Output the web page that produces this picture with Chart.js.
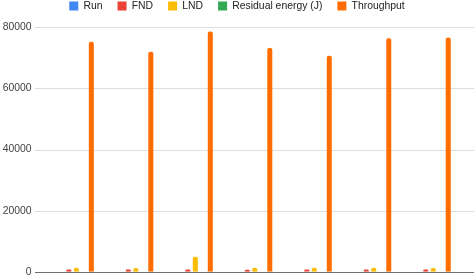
<!DOCTYPE html>
<html lang="en">
<head>
    <meta charset="UTF-8">
    <title>Run results</title>
    <script src="https://cdn.jsdelivr.net/npm/chart.js"></script>
    <style>
        body {
            margin: 0;
            background-color: #ffffff;
        }

        .chart-container {
            width: 474px;
            height: 278px;
            position: relative;
        }
    </style>
</head>
<body>

    <div class="chart-container">
        <canvas id="runChart"></canvas>
    </div>

    <script>
        // Data
        const runs = ['1', '2', '3', '4', '5', '6', '7'];
        const runValues = [1, 2, 3, 4, 5, 6, 7];
        const fndValues = [750, 700, 700, 650, 700, 700, 700];
        const lndValues = [1300, 1250, 4900, 1300, 1300, 1300, 1250];
        const residualValues = [0.47, 0.45, 0.5, 0.46, 0.44, 0.48, 0.47];
        const throughputValues = [75300, 72000, 78600, 73200, 70700, 76400, 76700];
        const yTicks = [0, 20000, 40000, 60000, 80000];

        const barStyle = {
            borderRadius: { topLeft: 2, topRight: 2 },
            borderSkipped: 'start',
            categoryPercentage: 0.63,
            barPercentage: 0.67
        };

        // Gridlines run wider than the bar area, so draw them from the y scale
        const gridPlugin = {
            id: 'wideGrid',
            beforeInit(chart) {
                const legend = chart.legend;
                const origFit = legend.fit;
                legend.fit = function () {
                    origFit.call(this);
                    this.height = 27.3;
                };
            },
            afterLayout(chart) {
                // pull legend row up to the top edge and center it on the whole canvas
                chart.legend.top = -14.25;
                chart.legend.left = 0;
                chart.legend.right = chart.width;
                chart.legend.width = chart.width;
            },
            beforeDatasetsDraw(chart) {
                const ctx = chart.ctx;
                const y = chart.scales.y;
                ctx.save();
                yTicks.forEach(v => {
                    const py = Math.round(y.getPixelForValue(v)) + 0.5;
                    ctx.strokeStyle = v === 0 ? '#6e6e6e' : '#dddddd';
                    ctx.lineWidth = 1;
                    ctx.beginPath();
                    ctx.moveTo(35, py);
                    ctx.lineTo(474, py);
                    ctx.stroke();
                });
                ctx.restore();
            }
        };

        const ctx = document.getElementById('runChart').getContext('2d');
        const runChart = new Chart(ctx, {
            type: 'bar',
            data: {
                labels: runs,
                datasets: [
                    {label: 'Run', data: runValues, backgroundColor: '#4285f4', ...barStyle},
                    {label: 'FND', data: fndValues, backgroundColor: '#ea4335', ...barStyle},
                    {label: 'LND', data: lndValues, backgroundColor: '#fbbc04', ...barStyle},
                    {label: 'Residual energy (J)', data: residualValues, backgroundColor: '#34a853', ...barStyle},
                    {label: 'Throughput', data: throughputValues, backgroundColor: '#ff6d01', ...barStyle}
                ]
            },
            options: {
                responsive: true,
                maintainAspectRatio: false,
                animation: false,
                devicePixelRatio: 1,
                layout: {
                    padding: { left: 0, right: 11, top: 0, bottom: 5.3 }
                },
                scales: {
                    x: {
                        display: false
                    },
                    y: {
                        min: 0,
                        max: 80000,
                        afterFit(scale) { scale.width = 46.6; },
                        afterBuildTicks(scale) { scale.ticks = yTicks.map(v => ({ value: v })); },
                        // tick marks stay hidden; their length only pushes labels left
                        grid: { display: false, drawTicks: true, tickLength: 15 },
                        border: { display: false },
                        ticks: {
                            padding: 0,
                            color: '#444444',
                            font: { family: 'Arial, "Liberation Sans", sans-serif', size: 10.4 },
                            callback: v => String(v)
                        }
                    }
                },
                plugins: {
                    legend: {
                        position: 'top',
                        labels: {
                            boxWidth: 9,
                            boxHeight: 9,
                            padding: 15,
                            color: '#222222',
                            font: { family: 'Arial, "Liberation Sans", sans-serif', size: 10.4 }
                        }
                    },
                    tooltip: { enabled: false }
                }
            },
            plugins: [gridPlugin]
        });
    </script>
</body>
</html>
